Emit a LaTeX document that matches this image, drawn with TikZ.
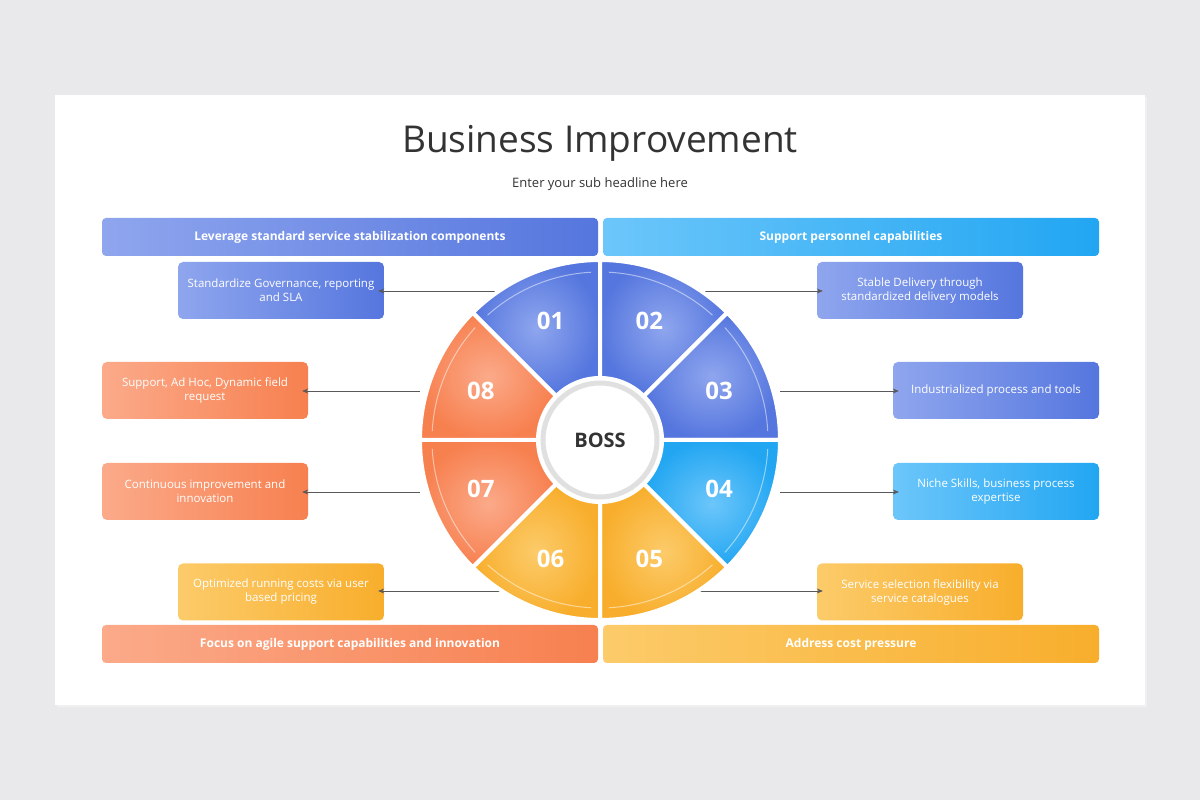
\documentclass[tikz,border=0pt]{standalone}
\usepackage{fontspec}
\setmainfont{Open Sans}
\usetikzlibrary{arrows.meta}
\definecolor{bg}{HTML}{E9E8EA}
\definecolor{bluea}{HTML}{8FA6EE}
\definecolor{blueb}{HTML}{5576DE}
\definecolor{lbluea}{HTML}{6CC6FA}
\definecolor{lblueb}{HTML}{22A6F2}
\definecolor{yela}{HTML}{FCCB6A}
\definecolor{yelb}{HTML}{F8AE2C}
\definecolor{ora}{HTML}{FBAA8A}
\definecolor{orb}{HTML}{F7804F}
\definecolor{txt}{HTML}{333333}
\tikzset{
 bar/.style={minimum width=496pt,minimum height=38pt,inner sep=0pt,rounded corners=4pt,text=white,font=\fontsize{12}{14}\selectfont\bfseries},
 box/.style={minimum width=206pt,minimum height=57pt,align=center,inner sep=0pt,rounded corners=5pt,text=white,font=\fontsize{11.5}{14}\selectfont},
 seg/.style={draw=white,line width=4pt,line join=round},
 num/.style={text=white,font=\fontsize{24}{26}\selectfont\bfseries},
 arr/.style={draw=black!65,line width=0.7pt,-{Stealth[length=6pt,width=5pt]}}
}
\begin{document}
\begin{tikzpicture}[x=1pt,y=1pt]
\fill[bg] (0,0) rectangle (1200,800);
\fill[black!6] (57,93) rectangle (1147,703);
\fill[white] (55,95) rectangle (1145,705);
\node[text=txt,font=\fontsize{37}{40}\selectfont] (title) at (600,657) {Business Improvement};
\node[text=txt,font=\fontsize{13}{15}\selectfont] (sub) at (600,616) {Enter your sub headline here};
% bars
\node[bar,left color=bluea,right color=blueb] (b1) at (350,563) {Leverage standard service stabilization components};
\node[bar,left color=lbluea,right color=lblueb] (b2) at (851,563) {Support personnel capabilities};
\node[bar,left color=ora,right color=orb] (b3) at (350,156) {Focus on agile support capabilities and innovation};
\node[bar,left color=yela,right color=yelb] (b4) at (851,156) {Address cost pressure};
% boxes
\node[box,left color=bluea,right color=blueb] (x1) at (281,509.5) {Standardize Governance, reporting\\and SLA};
\node[box,left color=ora,right color=orb] (x8) at (205,409.5) {Support, Ad Hoc, Dynamic field\\request};
\node[box,left color=ora,right color=orb] (x7) at (205,308.5) {Continuous improvement and\\innovation};
\node[box,left color=yela,right color=yelb] (x6) at (281,208) {Optimized running costs via user\\based pricing};
\node[box,left color=bluea,right color=blueb] (x2) at (920,509.5) {Stable Delivery through\\standardized delivery models};
\node[box,left color=bluea,right color=blueb] (x3) at (996,409.5) {Industrialized process and tools};
\node[box,left color=lbluea,right color=lblueb] (x4) at (996,308.5) {Niche Skills, business process\\expertise};
\node[box,left color=yela,right color=yelb] (x5) at (920,208) {Service selection flexibility via\\service catalogues};
\begin{scope}[shift={(600,360)}]
\coordinate (c1) at (-70,149);
\coordinate (c2) at (70,149);
\coordinate (c8) at (-180,49);
\coordinate (c3) at (180,49);
\coordinate (c7) at (-180,-52);
\coordinate (c4) at (180,-52);
\coordinate (c6) at (-100,-151);
\coordinate (c5) at (100,-151);
\end{scope}
\draw[arr] (c1) -- ([xshift=-6pt]x1.east |- c1);
\draw[arr] (c8) -- ([xshift=-6pt]x8.east |- c8);
\draw[arr] (c7) -- ([xshift=-6pt]x7.east |- c7);
\draw[arr] (c6) -- ([xshift=-6pt]x6.east |- c6);
\draw[arr] (c2) -- ([xshift=6pt]x2.west |- c2);
\draw[arr] (c3) -- ([xshift=6pt]x3.west |- c3);
\draw[arr] (c4) -- ([xshift=6pt]x4.west |- c4);
\draw[arr] (c5) -- ([xshift=6pt]x5.west |- c5);
% wheel
\begin{scope}[shift={(600,360)}]
\foreach \a/\ca/\cb/\n in {90/bluea/blueb/01,45/bluea/blueb/02,0/bluea/blueb/03,-45/lbluea/lblueb/04,-90/yela/yelb/05,-135/yela/yelb/06,180/ora/orb/07,135/ora/orb/08}{
  \filldraw[seg,inner color=\ca,outer color=\cb] (\a:62) -- (\a:180) arc(\a:\a+45:180) -- (\a+45:62) arc(\a+45:\a:62) -- cycle;
  \draw[white,opacity=0.5,line width=1pt] (\a+3:168) arc(\a+3:\a+42:168);
  \node[num] (n\n) at (\a+22.5:129) {\n};
}
\filldraw[fill=white,draw=black!12,line width=5pt] (0,0) circle (57);
\node[text=txt,font=\fontsize{20}{22}\selectfont\bfseries] (boss) at (0,0) {BOSS};
\end{scope}
\end{tikzpicture}
\end{document}
